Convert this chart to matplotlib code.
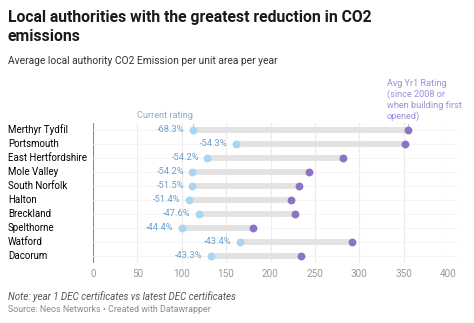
import matplotlib
matplotlib.use("Agg")
import matplotlib.pyplot as plt

W, H = 474, 323
DPI = 100

authorities = ["Merthyr Tydfil", "Portsmouth", "East Hertfordshire", "Mole Valley",
               "South Norfolk", "Halton", "Breckland", "Spelthorne", "Watford", "Dacorum"]
current = [112.5, 160.8, 129.0, 111.8, 112.0, 108.2, 119.4, 100.3, 165.3, 132.8]
yr1 = [355.0, 352.0, 281.5, 243.5, 232.0, 222.8, 228.0, 180.3, 291.8, 234.0]
change_labels = ["-68.3%", "-54.3%", "-54.2%", "-54.2%", "-51.5%",
                 "-51.4%", "-47.6%", "-44.4%", "-43.4%", "-43.3%"]
xticks = [0, 50, 100, 150, 200, 250, 300, 350, 400]

FONT = "Roboto"
C_CUR = "#a9d6f5"
C_YR1 = "#8c73c4"
C_LBL = "#6a9fcf"
C_BAR = "#e2e2e2"

fig = plt.figure(figsize=(W / DPI, H / DPI), dpi=DPI)
fig.patch.set_facecolor("white")

def fx(px):
    return px / W

def fy(py):
    return 1 - py / H

ax_l, ax_r, ax_t, ax_b = 93, 448, 123, 263
ax = fig.add_axes([fx(ax_l), fy(ax_b), (ax_r - ax_l) / W, (ax_b - ax_t) / H])
ax.set_xlim(0, 400)
ax.set_ylim(len(authorities) - 0.5, -0.5)
for s in ax.spines.values():
    s.set_visible(False)
ax.set_yticks([])
ax.set_xticks(xticks)
ax.set_xticklabels([str(t) for t in xticks], fontfamily=FONT, fontsize=7.2, color="#9a9a9a")
ax.tick_params(axis="x", length=0, pad=4)
for t in xticks:
    ax.axvline(t, color="#8a8a8a" if t == 0 else "#ececec", lw=0.8, zorder=0)
for i in range(len(authorities)):
    ax.plot([0, 410], [i, i], color="#f3f3f3", lw=0.6, zorder=0, clip_on=False)

x_name = -93 * 400 / 355 + 8 * 400 / 355
for i, (name, c, y, lab) in enumerate(zip(authorities, current, yr1, change_labels)):
    ax.plot([c, y], [i, i], color=C_BAR, lw=4.2, solid_capstyle="butt", zorder=1)
    ax.scatter([c], [i], s=32, color=C_CUR, zorder=3, linewidths=0)
    ax.scatter([y], [i], s=32, color=C_YR1, zorder=3, linewidths=0)
    ax.annotate(lab, (c, i), xytext=(-6, 0), textcoords="offset points",
                ha="right", va="center", fontfamily=FONT, fontsize=6.7, color=C_LBL)
    ax.text(x_name, i, name, ha="left", va="center",
            fontfamily=FONT, fontsize=7.0, color="#000000", fontweight="normal")

# Annotations
fig.text(fx(193), fy(115), "Current rating", ha="right", va="center",
         fontfamily=FONT, fontsize=6.6, color="#86acd2")
ax.plot([current[0], current[0]], [-0.45, -0.2], color="#9fbfdc", lw=0.6, clip_on=False)
for k, line in enumerate(["Avg Yr1 Rating", "(since 2008 or", "when building first", "opened)"]):
    fig.text(fx(387), fy(84 + k * 10.6), line, ha="left", va="center",
             fontfamily=FONT, fontsize=6.6, color="#9d8fd6")
ax.plot([yr1[0], yr1[0]], [-0.45, -0.2], color="#b3a8dd", lw=0.6, clip_on=False)

fig.text(fx(8), fy(22), "Local authorities with the greatest reduction in CO2",
         ha="left", va="baseline", fontfamily=FONT, fontsize=11.3, fontweight="bold",
         color="#1a1a1a")
fig.text(fx(8), fy(41), "emissions",
         ha="left", va="baseline", fontfamily=FONT, fontsize=11.3, fontweight="bold",
         color="#1a1a1a")
fig.text(fx(8), fy(64), "Average local authority CO2 Emission per unit area per year",
         ha="left", va="baseline", fontfamily=FONT, fontsize=7.4, color="#333333")
fig.text(fx(8), fy(300), "Note: year 1 DEC certificates vs latest DEC certificates",
         ha="left", va="baseline", fontfamily=FONT, fontsize=7.0, style="italic",
         color="#555555")
fig.text(fx(8), fy(312), "Source: Neos Networks \u2022 Created with Datawrapper",
         ha="left", va="baseline", fontfamily=FONT, fontsize=6.4, color="#8a8a8a")

fig.savefig("out.png", dpi=DPI, facecolor="white")
